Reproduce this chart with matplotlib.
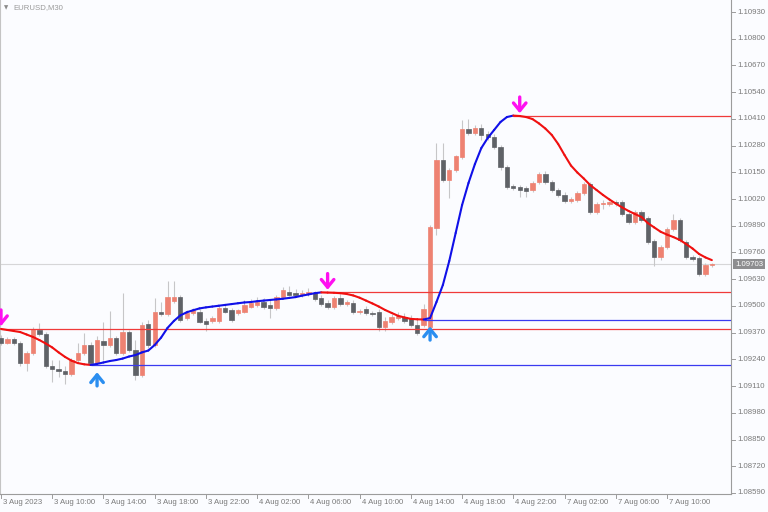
import numpy as np
import matplotlib
matplotlib.use("Agg")
import matplotlib.pyplot as plt
from matplotlib.collections import LineCollection
import matplotlib.transforms as mtransforms

# ---------------- data (EURUSD M30, 3-7 Aug 2023) ----------------
opens = [1.09344, 1.09320, 1.09339, 1.09320, 1.09222, 1.09271, 1.09383, 1.09363, 1.09208, 1.09193,
         1.09183, 1.09169, 1.09237, 1.09271, 1.09310, 1.09222, 1.09329, 1.09310, 1.09344, 1.09271,
         1.09373, 1.09286, 1.09164, 1.09412, 1.09310, 1.09470, 1.09461, 1.09524, 1.09543, 1.09441,
         1.09466, 1.09470, 1.09427, 1.09427, 1.09427, 1.09490, 1.09480, 1.09466, 1.09470, 1.09495,
         1.09505, 1.09519, 1.09505, 1.09490, 1.09543, 1.09568, 1.09563, 1.09553, 1.09558, 1.09563,
         1.09539, 1.09514, 1.09495, 1.09539, 1.09509, 1.09514, 1.09470, 1.09485, 1.09466, 1.09470,
         1.09397, 1.09422, 1.09441, 1.09446, 1.09436, 1.09407, 1.09407, 1.09397, 1.09879, 1.10210,
         1.10113, 1.10161, 1.10225, 1.10361, 1.10341, 1.10366, 1.10336, 1.10322, 1.10273, 1.10176,
         1.10083, 1.10079, 1.10074, 1.10064, 1.10103, 1.10142, 1.10103, 1.10064, 1.10040, 1.10011,
         1.10015, 1.10049, 1.10093, 1.09957, 1.09996, 1.09996, 1.10006, 1.10006, 1.09947, 1.09908,
         1.09957, 1.09928, 1.09816, 1.09738, 1.09787, 1.09874, 1.09918, 1.09811, 1.09738, 1.09733,
         1.09655, 1.09699]
highs = [1.09359, 1.09349, 1.09349, 1.09329, 1.09281, 1.09397, 1.09417, 1.09373, 1.09237, 1.09237,
         1.09208, 1.09247, 1.09320, 1.09368, 1.09325, 1.09354, 1.09422, 1.09475, 1.09354, 1.09563,
         1.09383, 1.09334, 1.09422, 1.09432, 1.09539, 1.09519, 1.09621, 1.09621, 1.09553, 1.09480,
         1.09490, 1.09485, 1.09441, 1.09451, 1.09505, 1.09509, 1.09490, 1.09485, 1.09529, 1.09534,
         1.09543, 1.09539, 1.09529, 1.09553, 1.09592, 1.09597, 1.09582, 1.09578, 1.09587, 1.09573,
         1.09553, 1.09529, 1.09548, 1.09558, 1.09529, 1.09529, 1.09485, 1.09500, 1.09475, 1.09485,
         1.09446, 1.09461, 1.09470, 1.09466, 1.09456, 1.09441, 1.09509, 1.09894, 1.10293, 1.10293,
         1.10171, 1.10234, 1.10405, 1.10409, 1.10380, 1.10385, 1.10351, 1.10336, 1.10283, 1.10186,
         1.10093, 1.10088, 1.10083, 1.10108, 1.10152, 1.10157, 1.10113, 1.10074, 1.10054, 1.10030,
         1.10059, 1.10103, 1.10103, 1.10006, 1.10015, 1.10011, 1.10015, 1.10015, 1.09957, 1.09967,
         1.09967, 1.09938, 1.09826, 1.09796, 1.09884, 1.09947, 1.09928, 1.09821, 1.09748, 1.09743,
         1.09709, 1.09709]
lows = [1.09310, 1.09315, 1.09310, 1.09208, 1.09183, 1.09261, 1.09354, 1.09198, 1.09130, 1.09154,
        1.09120, 1.09159, 1.09227, 1.09261, 1.09213, 1.09213, 1.09237, 1.09300, 1.09261, 1.09261,
        1.09276, 1.09140, 1.09154, 1.09295, 1.09300, 1.09451, 1.09451, 1.09514, 1.09422, 1.09432,
        1.09456, 1.09417, 1.09378, 1.09417, 1.09417, 1.09466, 1.09422, 1.09456, 1.09466, 1.09490,
        1.09495, 1.09485, 1.09441, 1.09480, 1.09534, 1.09548, 1.09543, 1.09543, 1.09548, 1.09524,
        1.09500, 1.09485, 1.09485, 1.09500, 1.09500, 1.09461, 1.09461, 1.09456, 1.09451, 1.09378,
        1.09378, 1.09412, 1.09432, 1.09417, 1.09397, 1.09359, 1.09397, 1.09359, 1.09845, 1.10103,
        1.10025, 1.10152, 1.10215, 1.10332, 1.10332, 1.10307, 1.10307, 1.10263, 1.10161, 1.10069,
        1.10064, 1.10030, 1.10030, 1.10054, 1.10093, 1.10093, 1.10054, 1.10030, 1.10001, 1.10001,
        1.10006, 1.10040, 1.09947, 1.09947, 1.09972, 1.09986, 1.09986, 1.09938, 1.09899, 1.09899,
        1.09908, 1.09801, 1.09694, 1.09723, 1.09777, 1.09865, 1.09811, 1.09728, 1.09719, 1.09646,
        1.09646, 1.09689]
closes = [1.09320, 1.09339, 1.09320, 1.09222, 1.09271, 1.09388, 1.09363, 1.09208, 1.09193, 1.09183,
          1.09169, 1.09237, 1.09271, 1.09310, 1.09222, 1.09334, 1.09310, 1.09344, 1.09271, 1.09373,
          1.09286, 1.09164, 1.09407, 1.09310, 1.09470, 1.09461, 1.09543, 1.09543, 1.09432, 1.09466,
          1.09480, 1.09422, 1.09412, 1.09441, 1.09490, 1.09470, 1.09432, 1.09480, 1.09505, 1.09514,
          1.09519, 1.09495, 1.09490, 1.09543, 1.09578, 1.09553, 1.09553, 1.09563, 1.09568, 1.09534,
          1.09509, 1.09495, 1.09539, 1.09509, 1.09519, 1.09470, 1.09475, 1.09466, 1.09461, 1.09397,
          1.09427, 1.09446, 1.09451, 1.09427, 1.09407, 1.09368, 1.09485, 1.09884, 1.10210, 1.10113,
          1.10161, 1.10229, 1.10361, 1.10341, 1.10366, 1.10332, 1.10322, 1.10273, 1.10176, 1.10079,
          1.10074, 1.10064, 1.10059, 1.10098, 1.10142, 1.10103, 1.10064, 1.10040, 1.10011, 1.10020,
          1.10049, 1.10093, 1.09957, 1.09996, 1.10001, 1.10006, 1.10001, 1.09947, 1.09908, 1.09957,
          1.09918, 1.09811, 1.09738, 1.09787, 1.09874, 1.09918, 1.09821, 1.09738, 1.09728, 1.09655,
          1.09699, 1.09703]
# smoothed trend indicator (red = falling, blue = rising)
trend_line = [1.09388, 1.09383, 1.09378, 1.09373, 1.09361, 1.09349, 1.09334, 1.09317, 1.09298, 1.09274,
              1.09252, 1.09234, 1.09222, 1.09216, 1.09213, 1.09218, 1.09225, 1.09232, 1.09237, 1.09244,
              1.09254, 1.09261, 1.09274, 1.09283, 1.09310, 1.09346, 1.09393, 1.09427, 1.09454, 1.09469,
              1.09479, 1.09488, 1.09493, 1.09497, 1.09501, 1.09505, 1.09509, 1.09513, 1.09517, 1.09519,
              1.09523, 1.09526, 1.09529, 1.09532, 1.09535, 1.09539, 1.09543, 1.09550, 1.09556, 1.09562,
              1.09566, 1.09565, 1.09564, 1.09562, 1.09558, 1.09551, 1.09540, 1.09526, 1.09512, 1.09497,
              1.09480, 1.09466, 1.09452, 1.09444, 1.09437, 1.09435, 1.09434, 1.09441, 1.09519, 1.09602,
              1.09719, 1.09855, 1.09991, 1.10098, 1.10190, 1.10268, 1.10317, 1.10356, 1.10395, 1.10419,
              1.10426, 1.10424, 1.10419, 1.10409, 1.10388, 1.10363, 1.10332, 1.10288, 1.10234, 1.10183,
              1.10149, 1.10120, 1.10088, 1.10064, 1.10040, 1.10018, 1.09998, 1.09979, 1.09962, 1.09947,
              1.09933, 1.09903, 1.09882, 1.09861, 1.09847, 1.09835, 1.09821, 1.09801, 1.09779, 1.09753,
              1.09736, 1.09723]
level_bars = [0, 14, 50, 66, 80]          # turning points -> horizontal levels
sell_arrow_bars = [0, 51, 81]
buy_arrow_bars = [15, 67]
current_price = 1.09703
current_label = "1.09703"

xtick_bars = [0, 8, 16, 24, 32, 40, 48, 56, 64, 72, 80, 88, 96, 104]
xtick_labels = ["3 Aug 2023", "3 Aug 10:00", "3 Aug 14:00", "3 Aug 18:00", "3 Aug 22:00",
                "4 Aug 02:00", "4 Aug 06:00", "4 Aug 10:00", "4 Aug 14:00", "4 Aug 18:00",
                "4 Aug 22:00", "7 Aug 02:00", "7 Aug 06:00", "7 Aug 10:00"]
ytick_values = [1.10930, 1.10800, 1.10670, 1.10540, 1.10410, 1.10280, 1.10150, 1.10020, 1.09890,
                1.09760, 1.09630, 1.09500, 1.09370, 1.09240, 1.09110, 1.08980, 1.08850, 1.08720,
                1.08590]
symbol_label = "EURUSD,M30"

# ---------------- style ----------------
BG = "#FBFCFF"
BULL = "#EE8272"
BEAR = "#5F6267"
WICK = "#C6C6C8"
TXT = "#7A7A7A"
FONT = ["Liberation Sans", "DejaVu Sans"]
plt.rcParams["font.family"] = FONT

W, H = 768, 512
PLOT_W, PLOT_H, PLOT_BOTTOM = 731, 494, 18
PX_PER_BAR = 6.404

fig = plt.figure(figsize=(W / 100, H / 100), dpi=100, facecolor=BG)
ax = fig.add_axes([0, PLOT_BOTTOM / H, PLOT_W / W, PLOT_H / H], facecolor=BG)

o = np.array(opens); h = np.array(highs); l = np.array(lows); c = np.array(closes)
ind = np.array(trend_line)
x = np.arange(len(o))

x0 = -1 / PX_PER_BAR
ax.set_xlim(x0, x0 + PLOT_W / PX_PER_BAR)
ax.set_ylim(1.085851, 1.109884)

# current price line
ax.axhline(current_price, color="#D6D6D8", lw=0.8, zorder=1)

# candles
cols = np.where(c >= o, BULL, BEAR)
ax.vlines(x, l, h, color=WICK, lw=0.8, zorder=2)
ax.bar(x, np.abs(c - o), bottom=np.minimum(o, c), width=0.68, color=cols,
       edgecolor=cols, linewidth=0.5, zorder=3)

# levels
xmax = ax.get_xlim()[1]
for b in level_bars:
    rising_after = ind[b + 1] > ind[b]
    ax.hlines(ind[b], b, xmax, color="#3A3AF0" if rising_after else "#F03A3A", lw=0.9, zorder=4)

# indicator line coloured by direction
segs = [[(i, ind[i]), (i + 1, ind[i + 1])] for i in range(len(ind) - 1)]
segcols = ["#1010E8" if ind[i + 1] > ind[i] else "#F01010" for i in range(len(ind) - 1)]
ax.add_collection(LineCollection(segs, colors=segcols, linewidths=1.5, capstyle="round", zorder=5))

# arrows
for b in sell_arrow_bars:
    ax.annotate("", xy=(b, ind[b]), xytext=(0, 19), textcoords="offset pixels",
                arrowprops=dict(arrowstyle="->,head_length=0.55,head_width=0.45", color="#FF10F0",
                                lw=2.4, shrinkA=0, shrinkB=2, mutation_scale=10), zorder=6,
                annotation_clip=False)
for b in buy_arrow_bars:
    ax.annotate("", xy=(b, ind[b]), xytext=(0, -22), textcoords="offset pixels",
                arrowprops=dict(arrowstyle="->,head_length=0.55,head_width=0.45", color="#2B8EF0",
                                lw=2.4, shrinkA=0, shrinkB=6, mutation_scale=10), zorder=6)

# spines / ticks
ax.set_xticks([]); ax.set_yticks([])
ax.spines["top"].set_visible(False)
for s in ["right", "bottom"]:
    ax.spines[s].set_color("#9C9C9C"); ax.spines[s].set_linewidth(0.8)
ax.spines["left"].set_color("#C4C4C4"); ax.spines["left"].set_linewidth(0.8)

ytr = mtransforms.blended_transform_factory(ax.transAxes, ax.transData)
for v in ytick_values:
    ax.plot([1, 1 + 4 / PLOT_W], [v, v], transform=ytr, clip_on=False, color="#9C9C9C", lw=0.7)
    ax.annotate(f"{v:.5f}", xy=(1, v), xycoords=ytr, xytext=(6, 0), textcoords="offset pixels",
                va="center", ha="left", fontsize=5.6, color=TXT, annotation_clip=False)

ax.annotate(current_label, xy=(1, current_price), xycoords=ytr, xytext=(4, 0),
            textcoords="offset pixels", va="center", ha="left", fontsize=5.6, color="white",
            annotation_clip=False,
            bbox=dict(boxstyle="square,pad=0.2", fc="#8E8E90", ec="none"))

xtr = mtransforms.blended_transform_factory(ax.transData, ax.transAxes)
for b, lab in zip(xtick_bars, xtick_labels):
    ax.plot([b, b], [0, -4 / PLOT_H], transform=xtr, clip_on=False, color="#9C9C9C", lw=0.7)
    ax.annotate(lab, xy=(b, 0), xycoords=xtr, xytext=(2, -9), textcoords="offset pixels",
                va="center", ha="left", fontsize=5.6, color=TXT, annotation_clip=False)

fig.text(4 / W, 1 - 8 / H, "\u25BC", fontsize=4, color="#8A8A8A", va="center", ha="left",
         family=["DejaVu Sans"])
fig.text(13 / W, 1 - 8 / H, symbol_label, fontsize=5.6, color="#9A9A9A", va="center", ha="left")

fig.savefig("out.png", dpi=100, facecolor=BG)
